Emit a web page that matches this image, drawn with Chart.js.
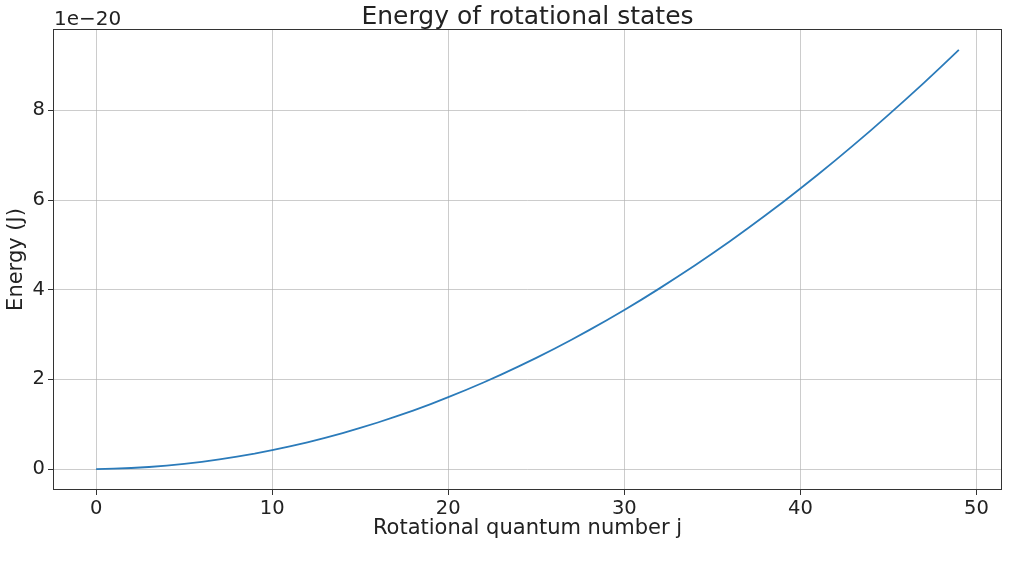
<!DOCTYPE html>
<html>
<head>
<meta charset="utf-8">
<script src="https://cdn.jsdelivr.net/npm/chart.js@4"></script>
<style>
  html, body { margin: 0; padding: 0; background: #fff; }
  #wrap { width: 1024px; height: 568px; }
</style>
</head>
<body>
<div id="wrap"><canvas id="energyChart" width="1024" height="568"></canvas></div>
<script>
// rotational quantum number j and energy (units of 1e-20 J)
const jValues = [0, 1, 2, 3, 4, 5, 6, 7, 8, 9,
  10, 11, 12, 13, 14, 15, 16, 17, 18, 19,
  20, 21, 22, 23, 24, 25, 26, 27, 28, 29,
  30, 31, 32, 33, 34, 35, 36, 37, 38, 39,
  40, 41, 42, 43, 44, 45, 46, 47, 48, 49];
const energyValues = [0.000, 0.008, 0.023, 0.046, 0.076, 0.114, 0.160, 0.214, 0.275, 0.343,
  0.420, 0.504, 0.595, 0.695, 0.801, 0.916, 1.038, 1.168, 1.305, 1.450,
  1.603, 1.763, 1.931, 2.106, 2.290, 2.480, 2.679, 2.885, 3.099, 3.320,
  3.549, 3.785, 4.030, 4.282, 4.541, 4.808, 5.083, 5.365, 5.655, 5.953,
  6.258, 6.571, 6.892, 7.220, 7.556, 7.899, 8.250, 8.609, 8.975, 9.349];
const xTicks = [0, 10, 20, 30, 40, 50];
const yTicks = [0, 2, 4, 6, 8];
const titleText = 'Energy of rotational states';
const offsetText = '1e\u221220';

const FONT = "'DejaVu Sans', sans-serif";
const TEXT = '#222';
const GRID = 'rgba(176,176,176,0.65)';

// draws the frame, title and the exponent label
const framePlugin = {
  id: 'frame',
  afterDraw(chart) {
    const { ctx, chartArea: a } = chart;
    ctx.save();
    ctx.strokeStyle = '#333';
    ctx.lineWidth = 1;
    ctx.strokeRect(Math.round(a.left) + 0.5, Math.round(a.top) + 0.5,
      Math.round(a.right - a.left) - 1, Math.round(a.bottom - a.top) - 1);
    ctx.fillStyle = TEXT;
    ctx.font = '25px ' + FONT;
    ctx.textAlign = 'center';
    ctx.textBaseline = 'alphabetic';
    ctx.fillText(titleText, (a.left + a.right) / 2, 24);
    ctx.font = '20px ' + FONT;
    ctx.textAlign = 'left';
    ctx.fillText(offsetText, a.left + 1, 25);
    ctx.restore();
  }
};

const ctx = document.getElementById('energyChart').getContext('2d');
new Chart(ctx, {
  type: 'line',
  data: {
    datasets: [{
      data: jValues.map((j, i) => ({ x: j, y: energyValues[i] })),
      borderColor: '#2b7bba',
      borderWidth: 1.8,
      pointRadius: 0,
      tension: 0,
      fill: false
    }]
  },
  options: {
    responsive: false,
    animation: false,
    layout: { padding: { left: 0, top: 29, right: 22, bottom: 0 } },
    plugins: {
      legend: { display: false },
      tooltip: { enabled: false }
    },
    scales: {
      x: {
        type: 'linear',
        min: -2.45,
        max: 51.45,
        afterBuildTicks: s => { s.ticks = xTicks.map(v => ({ value: v })); },
        afterFit: s => { s.height = 78; },
        grid: { color: GRID, lineWidth: 1, tickColor: '#333', tickLength: 5 },
        border: { display: false },
        ticks: { color: TEXT, font: { family: FONT, size: 19.5 }, padding: 2, maxRotation: 0 },
        title: { display: true, text: 'Rotational quantum number j', color: TEXT,
          font: { family: FONT, size: 21 }, padding: { top: 0, bottom: 27 } }
      },
      y: {
        min: -0.4675,
        max: 9.816,
        afterBuildTicks: s => { s.ticks = yTicks.map(v => ({ value: v })); },
        afterFit: s => { s.width = 53; },
        grid: { color: GRID, lineWidth: 1, tickColor: '#333', tickLength: 5 },
        border: { display: false },
        ticks: { color: TEXT, font: { family: FONT, size: 19.5 }, padding: 3 },
        title: { display: true, text: 'Energy (J)', color: TEXT,
          font: { family: FONT, size: 21 }, padding: { top: 4, bottom: 0 } }
      }
    }
  },
  plugins: [framePlugin]
});
</script>
</body>
</html>
